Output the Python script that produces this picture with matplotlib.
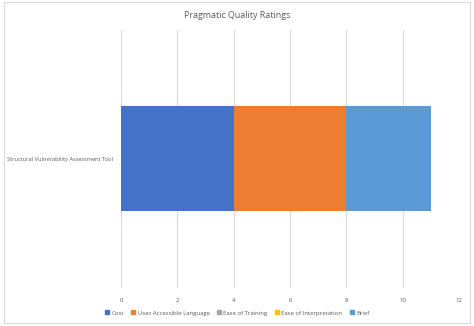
import matplotlib
matplotlib.use("Agg")
import matplotlib.pyplot as plt
from matplotlib.patches import Rectangle
from matplotlib.lines import Line2D

plt.rcParams['font.family'] = ['Open Sans', 'DejaVu Sans']

tools = ["Structural Vulnerability Assessment Tool"]
series = ["Cost", "Uses Accessible Language", "Ease of Training",
          "Ease of Interpretation", "Brief"]
values = [4, 4, 0, 0, 3]
colors = ["#4472C4", "#ED7D31", "#A5A5A5", "#FFC000", "#5B9BD5"]
xticks = [0, 2, 4, 6, 8, 10, 12]

fig = plt.figure(figsize=(4.74, 3.26), dpi=100)
fig.patch.set_facecolor("white")
fig.patches.append(Rectangle((0.009, 0.008), 0.982, 0.985, transform=fig.transFigure,
                             fill=False, edgecolor="#D9D9D9", linewidth=0.8))

ax = fig.add_axes([0.2553, 0.1166, 0.7131, 0.7914])
left = 0
for name, val, col in zip(series, values, colors):
    ax.barh(tools, [val], left=[left], height=0.407, color=col, label=name, zorder=3)
    left += val

ax.set_xlim(0, 12)
ax.set_ylim(-0.5, 0.5)
ax.set_xticks(xticks)
ax.set_xticklabels([str(t) for t in xticks])
ax.grid(axis="x", color="#D9D9D9", linewidth=0.8, zorder=0)
for s in ax.spines.values():
    s.set_visible(False)
ax.tick_params(axis="both", length=0, labelsize=4.3, labelcolor="#595959")
ax.tick_params(axis="y", labelsize=4.1, pad=6)
ax.tick_params(axis="x", pad=7)

fig.text(0.5, 0.953, "Pragmatic Quality Ratings", ha="center", va="center",
         fontsize=6.4, color="#595959")

handles = [Line2D([0], [0], marker="s", linestyle="none", markersize=3,
                  markerfacecolor=c, markeredgecolor=c) for c in colors]
fig.legend(handles, series, loc="center", bbox_to_anchor=(0.5, 0.04), ncol=5,
           frameon=False, fontsize=4.3, labelcolor="#595959", handletextpad=0.3,
           columnspacing=1.2, handlelength=0.8)

fig.savefig("out.png", dpi=100, facecolor="white")
